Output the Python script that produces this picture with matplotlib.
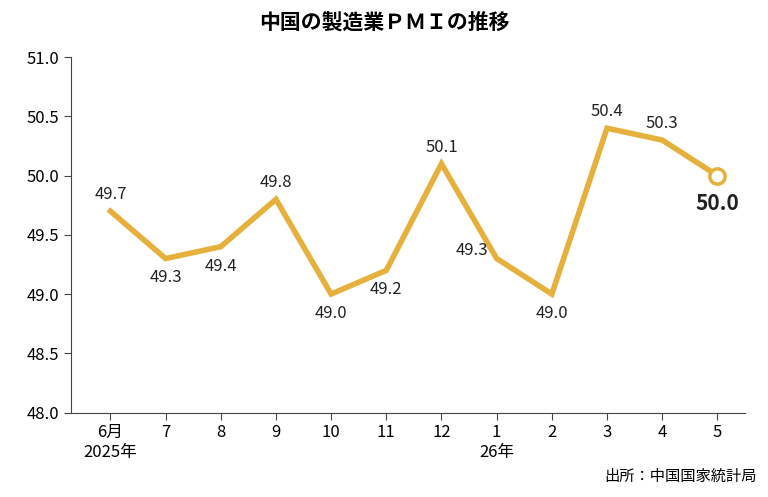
import matplotlib
matplotlib.use("Agg")
import matplotlib.pyplot as plt

plt.rcParams['font.family'] = ['Noto Sans CJK JP', 'DejaVu Sans']

months = ["6月\n2025年", "7", "8", "9", "10", "11", "12", "1\n26年", "2", "3", "4", "5"]
pmi = [49.7, 49.3, 49.4, 49.8, 49.0, 49.2, 50.1, 49.3, 49.0, 50.4, 50.3, 50.0]

# label offsets in points (style only)
offsets = [(0, 12), (0, -14), (0, -14), (0, 12), (0, -14), (0, -14),
           (0, 12), (-18, 6), (0, -14), (0, 12), (0, 12), (0, -20)]

GOLD = "#E6B03C"

fig = plt.figure(figsize=(7.68, 4.97), dpi=100)
ax = fig.add_axes([0.092, 0.17, 0.878, 0.715])

x = list(range(len(pmi)))
ax.plot(x, pmi, color=GOLD, linewidth=4, solid_joinstyle="miter")
ax.plot(x[-1], pmi[-1], "o", markersize=11, markerfacecolor="white",
        markeredgecolor=GOLD, markeredgewidth=2.5)

for i, v in enumerate(pmi):
    last = i == len(pmi) - 1
    ax.annotate(f"{v:.1f}", (i, v), xytext=offsets[i], textcoords="offset points",
                ha="center", va="center", fontsize=15 if last else 12,
                fontweight="bold" if last else "normal", color="#222")

ax.set_ylim(48.0, 51.0)
ax.set_yticks([48.0, 48.5, 49.0, 49.5, 50.0, 50.5, 51.0])
ax.set_yticklabels([f"{t:.1f}" for t in ax.get_yticks()], fontsize=12)
ax.set_xlim(-0.72, len(pmi) - 0.5)
ax.set_xticks(x)
ax.set_xticklabels(months, fontsize=12, linespacing=1.2)
ax.tick_params(direction="out", length=5, color="#444")
for s in ["top", "right"]:
    ax.spines[s].set_visible(False)
ax.spines["left"].set_color("#444")
ax.spines["bottom"].set_color("#444")

fig.text(0.5, 0.955, "中国の製造業ＰＭＩの推移", ha="center", va="center",
         fontsize=15, fontweight="bold")
fig.text(0.985, 0.025, "出所：中国国家統計局", ha="right", va="bottom", fontsize=11)

fig.savefig("out.png", dpi=100)
